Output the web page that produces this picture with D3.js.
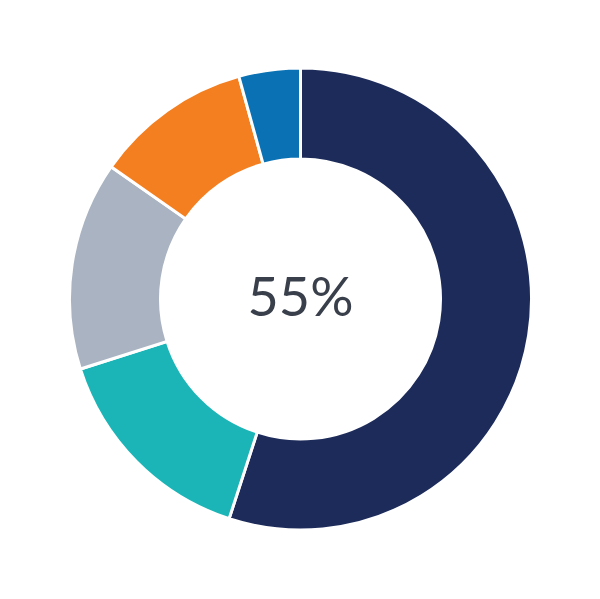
<!DOCTYPE html>
<html>
<head>
<meta charset="utf-8">
<script src="https://cdn.jsdelivr.net/npm/d3@7"></script>
<style>
  body { margin: 0; background: #fff; }
</style>
</head>
<body>
<div id="chart"></div>
<script>
// slice data, clockwise from 12 o'clock
var categories = ["A", "B", "C", "D", "E"];
var values = [55, 15.1, 14.6, 11, 4.3];
var colors = ["#1c2b5a", "#1bb5b7", "#a9b3c1", "#f47f20", "#0a72b4"];
var centerLabel = "55%";

var width = 600, height = 599;
var outerR = 231, innerR = 140;

var svg = d3.select("#chart")
  .append("svg")
  .attr("width", width)
  .attr("height", height)
  .append("g")
  .attr("transform", "translate(" + 300.5 + "," + 299 + ")");

var pie = d3.pie().sort(null).value(function(d) { return d.value; });
var arc = d3.arc().innerRadius(innerR).outerRadius(outerR);

var data = categories.map(function(c, i) { return {name: c, value: values[i], color: colors[i]}; });

svg.selectAll(".slice")
  .data(pie(data))
  .enter().append("path")
  .attr("class", "slice")
  .attr("d", arc)
  .attr("fill", function(d) { return d.data.color; })
  .attr("stroke", "#fff")
  .attr("stroke-width", 3);

svg.append("text")
  .attr("text-anchor", "middle")
  .attr("dy", "0.35em")
  .attr("y", -2)
  .attr("font-family", "Lato, sans-serif")
  .attr("font-size", "54px")
  .attr("fill", "#3a404b")
  .text(centerLabel);
</script>
</body>
</html>
